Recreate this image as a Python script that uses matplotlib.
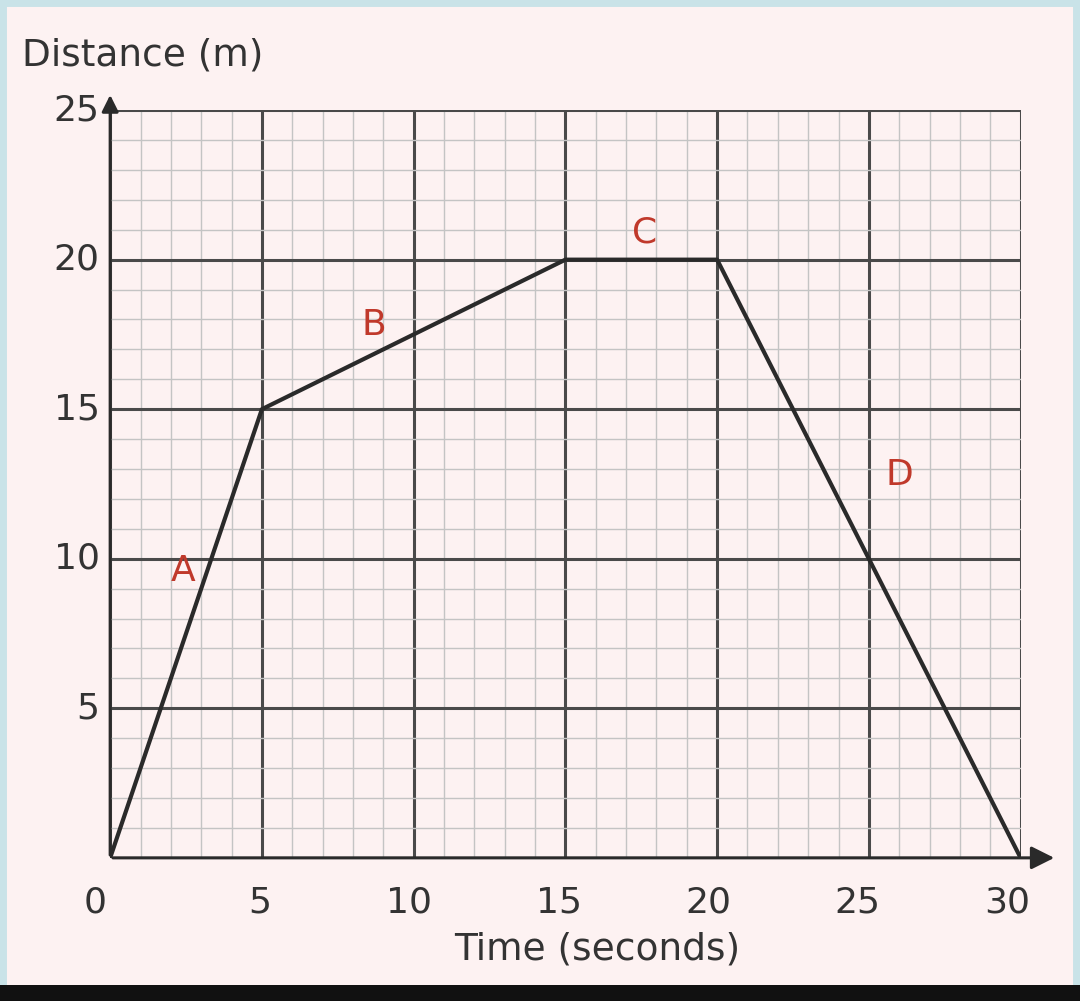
import matplotlib.pyplot as plt
from matplotlib.patches import Rectangle

# Distance-time graph data
time_s = [0, 5, 15, 20, 30]
distance_m = [0, 15, 20, 20, 0]
x_ticks = [0, 5, 10, 15, 20, 25, 30]
y_ticks = [5, 10, 15, 20, 25]
seg_labels = ['A', 'B', 'C', 'D']
seg_x = [2.4, 8.7, 17.6, 26.0]
seg_y = [9.6, 17.8, 20.9, 12.8]

fig = plt.figure(figsize=(10.8, 10.01), dpi=100)
fig.patch.set_facecolor('#fdf2f2')
# outer frame
fig.patches.append(Rectangle((0, 0), 1, 1, transform=fig.transFigure, fill=False,
                             edgecolor='#c9e3e8', linewidth=10))
fig.patches.append(Rectangle((0, 0), 1, 0.016, transform=fig.transFigure,
                             facecolor='#111111', edgecolor='none'))

ax = fig.add_axes([0.102, 0.143, 0.843, 0.747])
ax.set_facecolor('#fdf2f2')
ax.set_xlim(0, 30)
ax.set_ylim(0, 25)

for v in range(31):
    ax.axvline(v, color='#4a4a4a' if v % 5 == 0 else '#c4c4c4',
               lw=2.2 if v % 5 == 0 else 1.0, zorder=1)
for v in range(26):
    ax.axhline(v, color='#4a4a4a' if v % 5 == 0 else '#c4c4c4',
               lw=2.2 if v % 5 == 0 else 1.0, zorder=1)

ax.plot(time_s, distance_m, color='#2a2a2a', lw=3, zorder=3)

for lab, x, y in zip(seg_labels, seg_x, seg_y):
    ax.text(x, y, lab, color='#c0392b', fontsize=26, ha='center', va='center', zorder=4)

for s in ax.spines.values():
    s.set_visible(False)
ax.set_xticks([])
ax.set_yticks([])

# axis arrows
ax.annotate('', xy=(31.2, 0), xytext=(0, 0), annotation_clip=False,
            arrowprops=dict(arrowstyle='-|>', color='#2a2a2a', lw=2.2, mutation_scale=35))
ax.annotate('', xy=(0, 25.6), xytext=(0, 0), annotation_clip=False,
            arrowprops=dict(arrowstyle='-|>', color='#2a2a2a', lw=2.2, mutation_scale=25))

for t in x_ticks:
    ax.text(t * 0.985 if t > 0 else -0.5, -1.5, str(t), fontsize=26, color='#333333',
            ha='center', va='center')
for t in y_ticks:
    ax.text(-0.35, t, str(t), fontsize=26, color='#333333', ha='right', va='center')

fig.text(0.02, 0.945, 'Distance (m)', fontsize=27, color='#333333', ha='left', va='center')
fig.text(0.553, 0.051, 'Time (seconds)', fontsize=27, color='#333333', ha='center', va='center')

fig.savefig('out.png', dpi=100, facecolor=fig.get_facecolor())
